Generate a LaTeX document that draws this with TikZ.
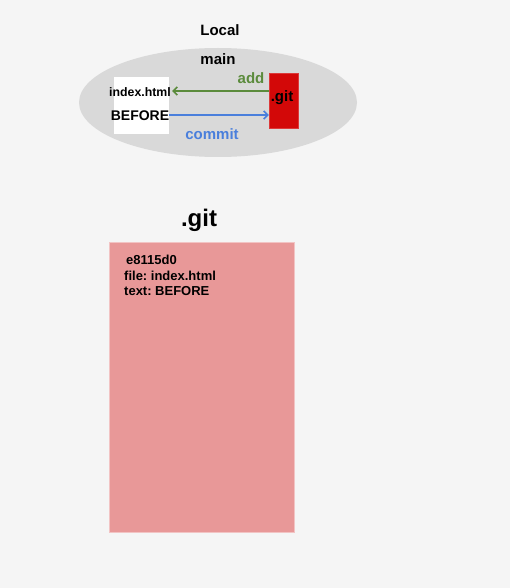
\documentclass[tikz,border=0pt]{standalone}
\usepackage{fontspec}
\setmainfont{Liberation Sans}
\usetikzlibrary{shapes.geometric,arrows.meta}
\definecolor{bgc}{HTML}{F5F5F5}
\definecolor{ellc}{HTML}{D9D9D9}
\definecolor{redc}{HTML}{D30808}
\definecolor{pinkc}{HTML}{E89898}
\definecolor{pinkb}{HTML}{F2C4C4}
\definecolor{greenc}{HTML}{5B8B3C}
\definecolor{bluec}{HTML}{4A7FDC}
\frenchspacing
\tikzset{
  lbl/.style={font=\bfseries\fontsize{15}{18}\selectfont, inner sep=0pt},
  small/.style={font=\bfseries\fontsize{13}{15}\selectfont, inner sep=0pt, anchor=west},
  arr/.style={line width=1.5pt, -{Straight Barb[length=4pt,width=8pt]}},
}
\begin{document}
\begin{tikzpicture}[x=1pt,y=-1pt]
\useasboundingbox[fill=bgc] (0,0) rectangle (510,588);
\node[ellipse, fill=ellc, minimum width=278pt, minimum height=109pt, inner sep=0pt] (ell) at (218,102.5) {};
\node[lbl] (local) at (220,30) {Local};
\node[lbl] (main) at (218,59) {main};
\node[fill=white, minimum width=55pt, minimum height=57pt, inner sep=0pt] (idx) at (141.5,105.5) {};
\node[font=\bfseries\fontsize{12.3}{14}\selectfont, inner sep=0pt] (idxname) at (140,92) {index.html};
\node[font=\bfseries\fontsize{14}{16}\selectfont, inner sep=0pt] (idxtext) at (140,115.5) {BEFORE};
\node[fill=redc, draw=redc!80!white, minimum width=29pt, minimum height=55pt, inner sep=0pt] (git) at (283.5,100.5) {};
\node[lbl] (gitlbl) at (282,97.5) {.git};
\node[lbl, text=greenc] (add) at (251,78) {add};
\node[lbl, text=bluec] (commit) at (212,134) {commit};
\draw[arr, greenc] ([yshift=9.5pt]git.west) -- ([xshift=3pt,yshift=14.5pt]idx.east);
\draw[arr, bluec] ([yshift=-9.5pt]idx.east) -- ([yshift=-14.5pt]git.west);
\node[font=\bfseries\fontsize{24}{28}\selectfont, inner sep=0pt] (bigtitle) at (199,220) {.git};
\node[fill=pinkc, draw=pinkb, line width=0.8pt, minimum width=185pt, minimum height=290pt, inner sep=0pt] (repo) at (201.5,387) {};
\node[small] (hash) at (126,260) {e8115d0};
\node[small] (file) at (124,275.5) {file: index.html};
\node[small] (txt) at (124,291.5) {text: BEFORE};
\end{tikzpicture}
\end{document}
